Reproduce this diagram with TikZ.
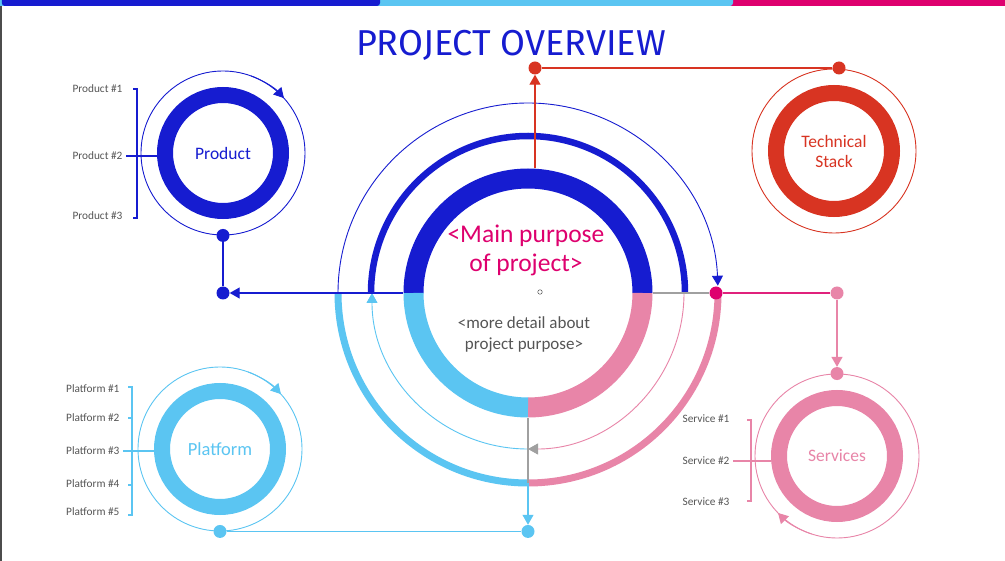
\documentclass[tikz,border=0pt]{standalone}
\usepackage{fontspec}
\setmainfont{Carlito}
\newfontfamily\titlefont{Fira Sans}
\usetikzlibrary{arrows.meta,positioning}

\definecolor{darkblue}{RGB}{22,28,208}
\definecolor{skyblue}{RGB}{91,197,242}
\definecolor{softpink}{RGB}{232,133,168}
\definecolor{hotpink}{RGB}{222,0,110}
\definecolor{brickred}{RGB}{216,52,34}
\definecolor{midgray}{RGB}{160,160,160}
\definecolor{labelgray}{RGB}{85,85,85}

\tikzset{
  ring/.style={circle, draw=#1, line width=16pt, minimum size=116pt, inner sep=0pt, text=#1, align=center},
  orbit/.style={circle, draw=#1, line width=0.9pt, minimum size=164pt, inner sep=0pt},
  joint/.style={circle, fill=#1, minimum size=13pt, inner sep=0pt},
  tip/.style={-{Triangle[width=11pt,length=10pt]}},
  itemlabel/.style={anchor=east, text=labelgray, font=\fontsize{11.3}{13}\selectfont},
  bracket/.style={draw=#1, line width=1.6pt},
}

\begin{document}
\begin{tikzpicture}[x=1pt,y=1pt]
\useasboundingbox (0,0) rectangle (1005,-561);
\fill[white] (0,0) rectangle (1005,-561);
% draw page edge and top bar
\fill[black!70] (0,0) rectangle (1.8,-561);
\fill[hotpink] (1.8,0) rectangle (1005,-6);
\fill[skyblue, rounded corners=3pt] (-10,4) rectangle (733,-6);
\fill[darkblue, rounded corners=3pt] (1.8,4) rectangle (380,-6);

% draw title
\node[text=darkblue, font=\titlefont\fontsize{36}{40}\selectfont] (title) at (511,-45) {PROJECT OVERVIEW};

% draw nodes for the hub
\node[circle, minimum size=249pt, inner sep=0pt] (hub) at (528,-293) {};
\foreach \col/\from/\to in {darkblue/180/0, softpink/0/-90, skyblue/-90/-180}
  \draw[\col, line width=20pt] (hub.center) ++(\from:114.5) arc[start angle=\from, end angle=\to, radius=114.5];
\draw[darkblue, line width=6.5pt] (hub.center) ++(180:157) arc[start angle=180, end angle=0, radius=157];
\foreach \col/\from/\to in {skyblue/-180/-90, softpink/-90/0}
  \draw[\col, line width=7pt] (hub.center) ++(\from:190) arc[start angle=\from, end angle=\to, radius=190];
\node[text=hotpink, align=center, font=\fontsize{25.5}{29}\selectfont] (mainpurpose) at (526,-250) {<Main purpose\\of project>};
\node[circle, draw=labelgray, line width=0.5pt, minimum size=4.5pt, inner sep=0pt] (hubmark) at (540,-292) {};
\node[text=labelgray, align=center, font=\fontsize{17}{21}\selectfont] (detail) at (524,-335) {<more detail about\\project purpose>};

% draw satellite nodes
\node[ring=darkblue, font=\fontsize{17.5}{20}\selectfont] (product) at (223,-153) {Product};
\node[orbit=darkblue] (productorbit) at (223,-153) {};
\node[ring=brickred, font=\fontsize{17.5}{20}\selectfont] (techstack) at (834,-151) {Technical\\Stack};
\node[orbit=brickred] (techorbit) at (834,-151) {};
\node[ring=skyblue, font=\fontsize{18.5}{21}\selectfont] (platform) at (220,-449) {Platform};
\node[orbit=skyblue] (platformorbit) at (220,-449) {};
\node[ring=softpink, font=\fontsize{17.5}{20}\selectfont] (services) at (837,-456) {Services};
\node[orbit=softpink] (serviceorbit) at (837,-456) {};

% draw joints
\node[joint=darkblue] (productdot) at (productorbit.south) {};
\node[joint=skyblue] (platformdot) at (platformorbit.south) {};
\node[joint=softpink] (servicedot) at (serviceorbit.north) {};
\node[joint=hotpink] (centerdot) at (716,-293) {};
\node[joint=darkblue] (leftdot) at (productdot |- hub.center) {};
\node[joint=skyblue] (lowdot) at (hub.south |- platformdot) {};
\node[joint=softpink] (rightdot) at (servicedot |- hub.center) {};
\node[joint=brickred] (topdot) at (535,-68) {};
\node[joint=brickred] (techdot) at (839,-68) {};

% draw thin arcs round the hub
\draw[darkblue, line width=0.9pt, tip] (hub.center) ++(180:190) arc[start angle=180, end angle=2.2, radius=190];
\draw[skyblue, line width=0.9pt, tip] (hub.center) ++(-90:156) arc[start angle=-90, end angle=-180, radius=156];
\draw[softpink, line width=0.9pt, -{Triangle[width=11pt,length=10pt,color=midgray]}] (hub.center) ++(0:156) arc[start angle=0, end angle=-90, radius=156];

% draw arrows on the orbits
\draw[darkblue, line width=0.9pt, tip] (productorbit.center) ++(70:82) arc[start angle=70, end angle=42, radius=82];
\draw[skyblue, line width=0.9pt, tip] (platformorbit.center) ++(70:82) arc[start angle=70, end angle=42, radius=82];
\draw[softpink, line width=0.9pt, tip] (serviceorbit.center) ++(252:82) arc[start angle=252, end angle=224, radius=82];

% draw connectors
\draw[darkblue, line width=1.3pt, tip] (hub.west) -- (leftdot);
\draw[darkblue, line width=1.6pt] (productdot) -- (leftdot);
\draw[midgray, line width=1.3pt] (hub.east) -- (centerdot);
\draw[hotpink!75!softpink, line width=1.6pt] (centerdot) -- (rightdot);
\draw[softpink, line width=1.3pt, tip] (rightdot) -- (servicedot);
\coordinate (rimbottom) at (528,-483);
\draw[midgray, line width=1.3pt] (hub.south) -- (rimbottom);
\draw[skyblue, line width=1.3pt, tip] (rimbottom) -- (lowdot);
\draw[skyblue, line width=1.6pt] (lowdot) -- (platformdot);
\draw[brickred, line width=1.3pt, tip] (hub.north -| topdot) -- (topdot);
\draw[brickred, line width=1.3pt] (topdot) -- (techdot);

% draw item labels and brackets
\foreach \n/\y in {1/89,2/156,3/216}
  \node[itemlabel] (product\n) at (126,-\y) {Product \#\n};
\draw[bracket=darkblue] (133,-89) -- (137,-89) -- (137,-218) -- (133,-218);
\draw[bracket=darkblue] (product2.east) -- (product2.east -| product.west);

\foreach \n/\y in {1/389,2/418,3/451,4/484,5/512}
  \node[itemlabel] (platform\n) at (123,-\y) {Platform \#\n};
\draw[bracket=skyblue] (128,-387) -- (132,-387) -- (132,-515) -- (128,-515);
\foreach \y in {418,485}
  \draw[bracket=skyblue] (128,-\y) -- (132,-\y);
\draw[bracket=skyblue] (platform3.east) -- (platform3.east -| platform.west);

\foreach \n/\y in {1/419,2/461,3/502}
  \node[itemlabel] (service\n) at (733,-\y) {Service \#\n};
\draw[bracket=softpink] (747,-420) -- (751,-420) -- (751,-501) -- (747,-501);
\draw[bracket=softpink] (service2.east) -- (service2.east -| services.west);
\end{tikzpicture}
\end{document}
